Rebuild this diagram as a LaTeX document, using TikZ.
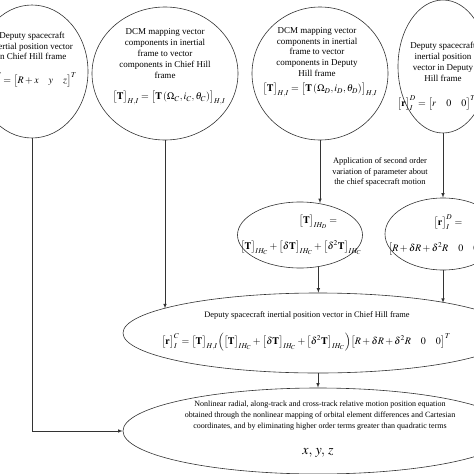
\documentclass[tikz,border=0pt]{standalone}
\usepackage{mathptmx}
\usepackage[no-math]{fontspec}
\setmainfont{Liberation Serif}
\usepackage{amsmath}
\usetikzlibrary{shapes.geometric}

\begin{document}
\begin{tikzpicture}[x=1pt, y=-1pt,
    bubble/.style={ellipse, draw=black!80, line width=0.6pt, inner sep=0pt},
    desc/.style={align=center, font=\fontsize{9}{10.8}\selectfont, inner sep=0pt},
    eqn/.style={font=\fontsize{10}{12}\selectfont, inner sep=0pt},
    note/.style={align=center, font=\fontsize{8.4}{10.6}\selectfont, inner sep=0pt},
    link/.style={draw=black!80, line width=0.6pt, -latex},
  ]
    \useasboundingbox (0, 0) rectangle (474, 474);

    \node[bubble, minimum width=112pt, minimum height=133pt] (A) at (32, 71.5)  {};
    \node[bubble, minimum width=146pt, minimum height=133pt] (B) at (165, 73.5) {};
    \node[bubble, minimum width=136pt, minimum height=133pt] (C) at (320, 73.5) {};
    \node[bubble, minimum width=90pt,  minimum height=133pt] (D) at (443, 66.5) {};
    \node[bubble, minimum width=125pt, minimum height=66pt]  (E) at (300, 235)  {};
    \node[bubble, minimum width=116pt, minimum height=72pt]  (G) at (443, 234)  {};
    \node[bubble, minimum width=390pt, minimum height=80pt]  (F) at (318, 333)  {};
    \node[bubble, minimum width=390pt, minimum height=86pt]  (H) at (318, 431)  {};

    \node[desc] (Atext) at (32, 46) {Deputy spacecraft\\ inertial position vector\\ in Chief Hill frame};
    \node[eqn]  (Aeq)   at (30, 80) {$\bigl[\mathbf{r}\bigr]_I^C=\bigl[R+x\quad y\quad z\bigr]^T$};
    \node[desc] (Btext) at (165, 53.5) {DCM mapping vector\\ components in inertial\\ frame to vector\\ components in Chief Hill\\ frame};
    \node[eqn]  (Beq)   at (169, 98) {$\bigl[\mathbf{T}\bigr]_{H,I}=\bigl[\mathbf{T}\left(\Omega_C,i_C,\theta_C\right)\bigr]_{H,I}$};
    \node[desc] (Ctext) at (317, 52) {DCM mapping vector\\ components in inertial\\ frame to vector\\ components in Deputy\\ Hill frame};
    \node[eqn]  (Ceq)   at (320, 90) {$\bigl[\mathbf{T}\bigr]_{H,I}=\bigl[\mathbf{T}\left(\Omega_D,i_D,\theta_D\right)\bigr]_{H,I}$};
    \node[desc] (Dtext) at (443, 62) {Deputy spacecraft\\ inertial position\\ vector in Deputy\\ Hill frame};
    \node[eqn, anchor=west] (Deq) at (397, 103) {$\bigl[\mathbf{r}\bigr]_I^D=\bigl[r\quad 0\quad 0\bigr]^T$};

    \node[note] (apply) at (380, 172) {Application of second order\\ variation of parameter about\\ the chief spacecraft motion};

    \node[eqn] (Eeq1) at (318, 222) {$\bigl[\mathbf{T}\bigr]_{IH_D}=$};
    \node[eqn] (Eeq2) at (301, 248) {$\bigl[\mathbf{T}\bigr]_{IH_C}+\bigl[\delta\mathbf{T}\bigr]_{IH_C}+\bigl[\delta^2\mathbf{T}\bigr]_{IH_C}$};
    \node[eqn] (Geq1) at (448, 222) {$\bigl[\mathbf{r}\bigr]_I^D=$};
    \node[eqn, anchor=west] (Geq2) at (388, 248) {$\bigl[R+\delta R+\delta^2R\quad 0\quad 0\bigr]^T$};

    \node[note] (Ftext) at (307, 315) {Deputy spacecraft inertial position vector in Chief Hill frame};
    \node[eqn]  (Feq)   at (306, 342) {$\bigl[\mathbf{r}\bigr]_I^C=\bigl[\mathbf{T}\bigr]_{H,I}\Bigl(\bigl[\mathbf{T}\bigr]_{IH_C}+\bigl[\delta\mathbf{T}\bigr]_{IH_C}+\bigl[\delta^2\mathbf{T}\bigr]_{IH_C}\Bigr)\bigl[R+\delta R+\delta^2R\quad 0\quad 0\bigr]^T$};

    \node[note, font=\fontsize{8}{11}\selectfont] (Htext) at (320, 416) {Nonlinear radial, along-track and cross-track relative motion position equation\\ obtained through the nonlinear mapping of orbital element differences and Cartesian\\ coordinates, and by eliminating higher order terms greater than quadratic terms};
    \node[eqn, font=\fontsize{14}{16}\selectfont] (Heq) at (318, 453) {$x,\,y,\,z$};

    \draw[link] (A.south) |- (H.west);
    \draw[link] (B.south) -- (B.south |- F.171.9);
    \draw[link] (C.south) -- (C.south |- E.60.3);
    \draw[link] (D.south) -- (D.south |- G.north);
    \draw[link] (E.-60.3) -- (E.-60.3 |- F.north);
    \draw[link] (G.south) -- (G.south |- F.13.8);
    \draw[link] (F.south) -- (H.north);
  \end{tikzpicture}
\end{document}
